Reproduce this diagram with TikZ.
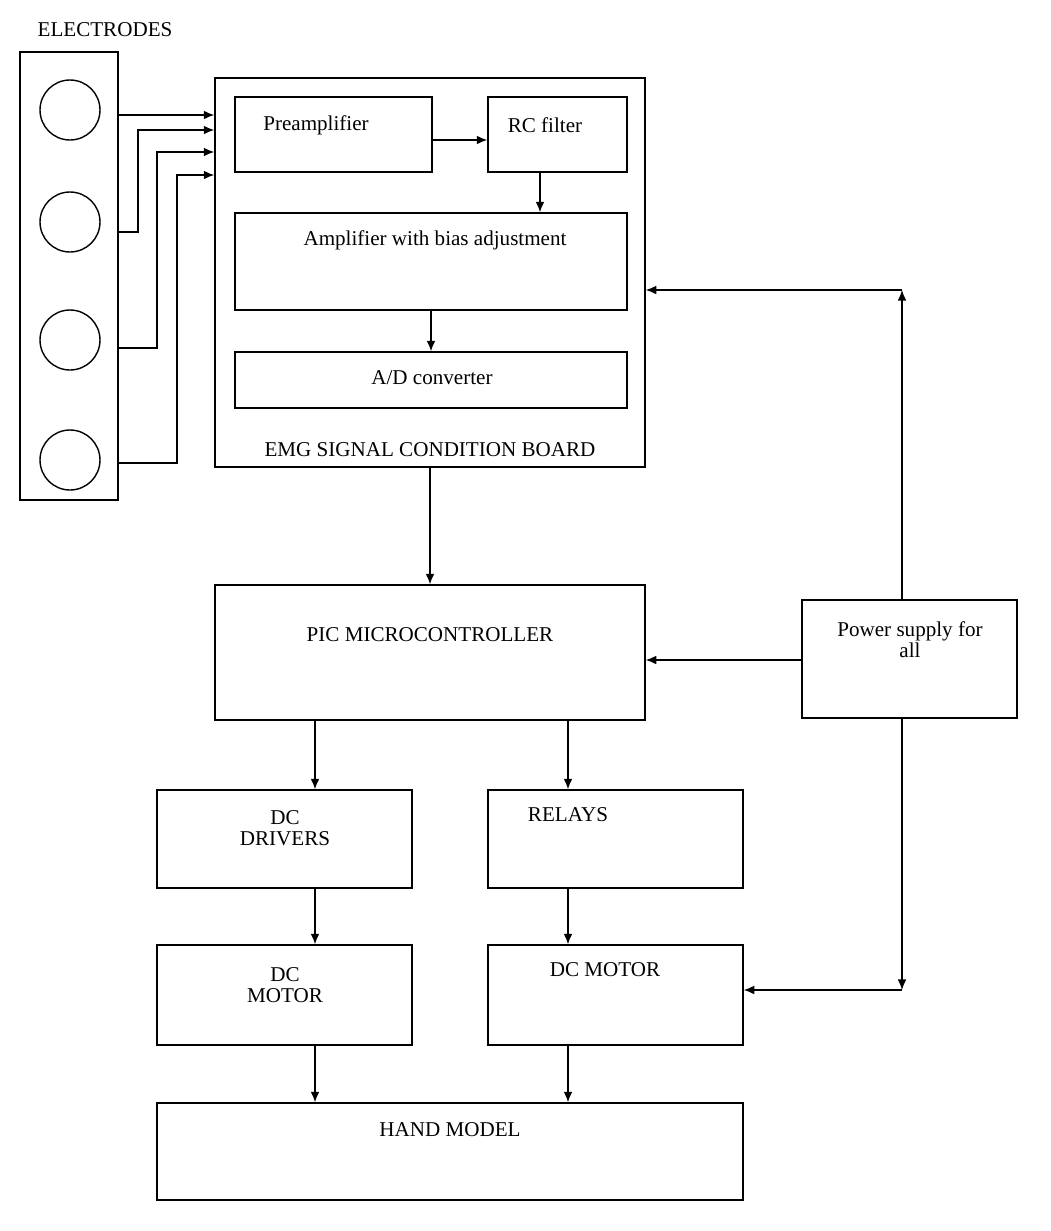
\documentclass[tikz,border=0pt]{standalone}
\usepackage{fontspec}
\setmainfont{Liberation Serif}
\usetikzlibrary{arrows.meta}
\tikzset{
  blk/.style={draw, line width=0.8pt, inner sep=0pt},
  lbl/.style={font=\fontsize{12}{14}\selectfont, align=center},
  arr/.style={-{Latex[length=6pt,width=5pt]}, line width=0.8pt},
  ln/.style={line width=0.8pt}
}
\newcommand{\blkbox}[5]{% name, x1, y1, x2, y2
  \node[blk, minimum width={(#4-#2)*0.02cm}, minimum height={(#5-#3)*0.02cm}]
    (#1) at ({(#2+#4)/2},{(#3+#5)/2}) {};}
\begin{document}
\begin{tikzpicture}[x=0.02cm,y=-0.02cm]
  \useasboundingbox (0,0) rectangle (1051,1231);
  % electrodes
  \node[lbl] (eltext) at (105,30) {ELECTRODES};
  \blkbox{elec}{20}{52}{118}{500}
  \foreach \n/\y in {1/110,2/222,3/340,4/460}
    \node[draw, circle, line width=0.8pt, minimum size=60*0.02cm] (c\n) at (70,\y) {};
  % board
  \blkbox{board}{215}{78}{645}{467}
  \node[lbl] (boardtext) at (430,450) {EMG SIGNAL CONDITION BOARD};
  \blkbox{pre}{235}{97}{432}{172}
  \node[lbl] at (316,125) {Preamplifier};
  \blkbox{rc}{488}{97}{627}{172}
  \node[lbl] at (545,125) {RC filter};
  \blkbox{amp}{235}{213}{627}{310}
  \node[lbl] at (435,240) {Amplifier with bias adjustment};
  \blkbox{adc}{235}{352}{627}{408}
  \node[lbl] at (432,378) {A/D converter};
  % lower blocks
  \blkbox{pic}{215}{585}{645}{720}
  \node[lbl] at (430,635) {PIC MICROCONTROLLER};
  \blkbox{ps}{802}{600}{1017}{718}
  \node[lbl] at (910,640) {Power supply for\\[-2pt]all};
  \blkbox{drv}{157}{790}{412}{888}
  \node[lbl] at (285,828) {DC\\[-2pt]DRIVERS};
  \blkbox{rel}{488}{790}{743}{888}
  \node[lbl] at (568,815) {RELAYS};
  \blkbox{mot1}{157}{945}{412}{1045}
  \node[lbl] at (285,985) {DC\\[-2pt]MOTOR};
  \blkbox{mot2}{488}{945}{743}{1045}
  \node[lbl] at (605,970) {DC MOTOR};
  \blkbox{hand}{157}{1103}{743}{1200}
  \node[lbl] at (450,1130) {HAND MODEL};
  % electrode wires
  \draw[arr] (118,115) -- (board.west |- 0,115);
  \draw[arr] (118,232) -- (138,232) -- (138,130) -- (board.west |- 0,130);
  \draw[arr] (118,348) -- (157,348) -- (157,152) -- (board.west |- 0,152);
  \draw[arr] (118,463) -- (177,463) -- (177,175) -- (board.west |- 0,175);
  % signal chain
  \draw[arr] (pre.east |- 0,140) -- (rc.west |- 0,140);
  \draw[arr] (rc.south -| 540,0) -- (amp.north -| 540,0);
  \draw[arr] (amp.south) -- (adc.north);
  \draw[arr] (board.south) -- (pic.north);
  \draw[arr] (pic.south -| 315,0) -- (drv.north -| 315,0);
  \draw[arr] (pic.south -| 568,0) -- (rel.north -| 568,0);
  \draw[arr] (drv.south -| 315,0) -- (mot1.north -| 315,0);
  \draw[arr] (rel.south -| 568,0) -- (mot2.north -| 568,0);
  \draw[arr] (mot1.south -| 315,0) -- (hand.north -| 315,0);
  \draw[arr] (mot2.south -| 568,0) -- (hand.north -| 568,0);
  % power
  \coordinate (pup) at (902,290);
  \coordinate (pdn) at (902,990);
  \draw[arr] (ps.west |- 0,660) -- (pic.east |- 0,660);
  \draw[arr] (ps.north -| pup) -- (pup);
  \draw[arr] (pup) -- (board.east |- pup);
  \draw[arr] (ps.south -| pdn) -- (pdn);
  \draw[arr] (pdn) -- (mot2.east |- pdn);
\end{tikzpicture}
\end{document}
